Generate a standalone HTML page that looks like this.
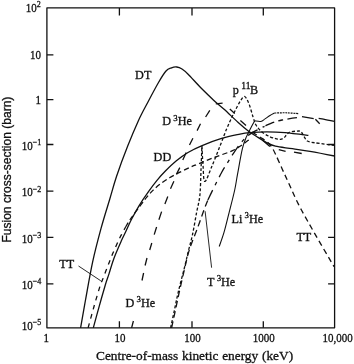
<!DOCTYPE html>
<html><head><meta charset="utf-8"><title>Fusion cross-sections</title>
<style>html,body{margin:0;padding:0;background:#fff}svg{display:block}</style></head>
<body>
<svg width="354" height="364" viewBox="0 0 354 364">
<rect width="354" height="364" fill="#fff"/>
<g fill="none" stroke="#111" stroke-width="1.3" stroke-linecap="butt" stroke-linejoin="round">
<rect x="46.9" y="7.9" width="287.70000000000005" height="319.90000000000003"/>
<path d="M46.9 54.9h6.5M334.6 54.9h-6.5"/>
<path d="M46.9 99.7h6.5M334.6 99.7h-6.5"/>
<path d="M46.9 144.5h6.5M334.6 144.5h-6.5"/>
<path d="M46.9 191.2h6.5M334.6 191.2h-6.5"/>
<path d="M46.9 237.4h6.5M334.6 237.4h-6.5"/>
<path d="M46.9 283.8h6.5M334.6 283.8h-6.5"/>
<path d="M119.4 7.9v7.5M119.4 327.8v-6.5"/>
<path d="M192.0 7.9v7.5M192.0 327.8v-6.5"/>
<path d="M263.3 7.9v7.5M263.3 327.8v-6.5"/>
<path d="M80.6 327.8C81.4 323.2 83.5 310.9 85.5 300.0C87.5 289.1 90.0 274.1 92.6 262.1C95.2 250.1 98.3 238.5 101.1 228.2C103.9 217.8 106.9 208.6 109.5 200.0C112.1 191.4 113.5 185.5 116.5 176.5C119.5 167.5 124.1 155.1 127.8 145.8C131.5 136.5 135.1 128.0 138.5 120.5C141.9 113.0 145.2 107.3 148.5 101.0C151.8 94.7 155.6 87.5 158.5 82.5C161.4 77.5 163.8 73.5 166.0 71.0C168.2 68.5 169.7 68.5 171.5 67.8C173.3 67.1 175.1 66.8 176.8 67.0C178.6 67.2 180.1 67.8 182.0 69.0C183.9 70.2 185.0 71.1 188.1 74.2C191.2 77.3 196.6 83.5 200.8 87.8C205.1 92.1 209.7 96.6 213.6 100.2C217.5 103.8 220.0 105.6 224.1 109.3C228.2 113.0 234.2 118.9 238.2 122.5C242.2 126.1 245.0 128.5 248.3 131.0C251.6 133.5 254.9 135.4 258.0 137.4C261.1 139.4 264.1 141.3 267.0 142.8C269.9 144.3 271.2 145.2 275.4 146.2C279.6 147.2 286.6 147.8 292.4 148.7C298.2 149.6 303.0 150.2 310.0 151.4C317.0 152.6 330.5 155.2 334.6 156.0"/>
<path d="M93.3 327.8C94.3 324.2 97.2 313.4 99.2 306.3C101.2 299.2 103.7 290.4 105.3 285.0C106.9 279.6 107.6 278.3 109.0 273.9C110.4 269.5 111.8 264.0 113.9 258.4C116.0 252.7 119.7 244.5 121.7 240.0C123.7 235.5 124.2 234.9 125.8 231.5C127.4 228.1 129.2 223.8 131.4 219.5C133.6 215.2 136.2 210.5 139.0 205.8C141.8 201.2 145.5 195.8 148.5 191.6C151.5 187.3 154.2 183.7 157.0 180.3C159.8 176.9 162.2 174.2 165.4 171.0C168.6 167.8 172.6 163.9 176.4 160.8C180.2 157.7 183.7 155.0 188.0 152.5C192.3 150.0 196.5 147.9 202.1 145.6C207.7 143.2 215.3 140.3 221.6 138.4C227.9 136.5 235.3 135.1 240.0 134.1C244.7 133.1 245.5 133.0 250.0 132.6C254.5 132.2 261.2 131.8 267.0 131.8C272.8 131.8 278.1 132.0 285.0 132.6C291.9 133.2 304.5 134.9 308.4 135.4"/>
<path d="M88.1 327.8C89.1 324.2 92.0 313.6 94.0 306.5C96.0 299.4 98.8 290.0 100.2 285.5C101.6 281.0 101.4 282.6 102.6 279.5C103.8 276.4 105.8 271.0 107.5 266.8C109.2 262.6 110.7 258.3 112.5 254.1C114.3 249.9 116.6 244.7 118.1 241.4C119.6 238.1 120.3 236.8 121.6 234.4C122.8 232.0 124.9 228.2 125.6 227.0" stroke-dasharray="4.7 4.8"/>
<path d="M125.6 227.0C126.5 225.6 128.4 221.9 130.8 218.5C133.2 215.1 137.1 209.9 139.8 206.3C142.5 202.8 144.6 199.8 146.8 197.2C149.0 194.5 150.7 192.6 152.9 190.4C155.2 188.2 157.5 186.1 160.3 184.0C163.1 181.9 166.4 179.7 169.5 177.8C172.6 175.9 175.6 174.4 179.0 172.7C182.4 170.9 186.8 168.8 190.0 167.3C193.2 165.8 194.6 165.4 198.5 163.8C202.4 162.2 208.0 159.8 213.7 157.6C219.4 155.4 227.8 152.8 232.5 150.7C237.2 148.6 239.2 146.9 242.0 145.0C244.8 143.1 248.1 140.4 249.3 139.5" stroke-dasharray="5.2 3.1"/>
<path d="M252.0 132.0C253.2 132.8 256.7 135.0 259.0 136.5C261.3 138.0 264.0 139.4 266.0 141.0C268.0 142.6 269.4 143.8 271.0 146.0C272.6 148.2 273.6 150.3 275.5 154.2C277.4 158.1 280.3 164.8 282.4 169.4C284.5 174.0 285.4 176.0 288.1 181.8C290.8 187.6 294.5 196.6 298.5 204.4C302.5 212.2 306.1 218.4 312.0 228.8C317.9 239.2 330.3 260.3 334.0 266.6" stroke-dasharray="5.5 3.8"/>
<path d="M131.6 327.8L133.4 321M142 280.5L143.6 273M145.1 265.5L147 258M149.7 250L151.8 243M154.2 234.6L156.6 227M158.9 219.8L161.6 211.6M164.9 204L167.8 196.4M170.5 188.8L173.9 181.2M176.4 174.4L179.8 167.6M182.8 160L186.2 152.6M189.5 145L192.9 138.2M197.1 130.6L200.5 123.8M205.6 117L209.8 110.3M215.8 103.9L222.6 103.2M229.8 109.1L234.7 113.4M240.4 120.4L246 125.4M262.3 139.9L269.9 146.6M278.8 149.6L285.6 151.3M294 152.1L301.7 153.5"/>
<path d="M170.6 327.8C171.2 325.2 172.7 318.0 174.0 312.1C175.3 306.2 176.5 299.4 178.2 292.4C179.8 285.3 182.2 276.5 183.9 269.8C185.6 263.1 186.7 257.9 188.1 252.1C189.5 246.3 191.0 241.8 192.4 235.2C193.8 228.6 195.3 219.3 196.6 212.6C197.8 205.9 199.2 202.1 199.9 195.0C200.6 187.9 200.7 178.2 201.0 170.0C201.3 161.8 201.8 150.0 201.9 146.0" stroke-dasharray="3 2"/>
<path d="M201.9 146.0C202.1 149.2 202.5 159.1 203.0 165.0C203.5 170.9 203.3 181.2 204.8 181.4C206.3 181.7 209.3 172.3 211.8 166.5C214.3 160.7 217.2 153.1 219.7 146.8C222.2 140.6 224.5 134.0 226.6 129.0C228.7 124.0 230.3 120.7 232.0 117.0C233.7 113.3 235.5 109.8 237.0 107.0C238.5 104.2 239.7 101.8 241.0 100.0C242.3 98.2 243.4 95.9 244.7 96.5C246.0 97.1 247.5 100.1 248.9 103.6C250.3 107.0 251.9 113.6 253.1 117.2C254.3 120.8 254.5 122.5 256.0 125.0C257.5 127.5 259.7 130.0 262.0 132.0C264.3 134.0 267.7 135.7 270.0 136.8C272.3 137.9 273.9 138.2 275.6 138.6C277.4 139.0 279.1 139.5 280.5 139.4C281.9 139.3 283.0 138.5 284.0 137.8C285.0 137.1 285.4 136.0 286.4 135.0C287.4 134.0 288.4 132.6 290.0 132.0C291.6 131.4 294.2 131.3 296.0 131.2C297.8 131.1 299.4 130.6 300.8 131.6C302.2 132.6 303.1 135.3 304.2 136.9C305.3 138.5 305.6 140.0 307.4 141.0C309.2 142.0 310.5 142.1 315.0 142.8C319.5 143.5 331.3 145.0 334.6 145.4" stroke-dasharray="3 2"/>
<path d="M171.6 327.8C172.2 325.2 173.7 318.0 175.0 312.1C176.3 306.2 177.6 299.6 179.2 292.4C180.8 285.2 182.8 276.3 184.5 269.1C186.2 261.9 187.2 256.4 189.5 249.3C191.8 242.2 195.4 233.8 198.0 226.7C200.6 219.6 203.4 211.4 205.1 207.0C206.8 202.6 207.4 201.2 207.9 200.0" stroke-dasharray="6.5 4"/>
<path d="M207.9 200.0C208.7 198.3 210.4 194.6 212.7 190.0C215.0 185.4 219.1 177.1 221.6 172.5C224.1 167.9 225.8 165.6 227.6 162.6C229.4 159.6 230.4 157.8 232.5 154.7C234.6 151.6 237.4 147.2 240.0 144.0C242.6 140.8 245.0 137.9 248.0 135.5C251.0 133.1 255.2 131.0 258.0 129.5C260.8 128.0 263.4 126.8 264.5 126.3" stroke-dasharray="11 5.5 3.5 5.5"/>
<path d="M265.5 125.8C266.7 125.3 269.9 123.6 272.6 122.6C275.4 121.6 277.4 120.9 282.0 120.0C286.6 119.1 295.0 117.8 300.0 117.4C305.0 117.0 308.3 117.2 312.0 117.5C315.7 117.8 318.2 118.2 322.0 118.9C325.8 119.6 332.5 121.0 334.6 121.4" stroke-dasharray="9.5 4.3 5 4.3 9.5 22 40"/>
<path d="M219.2 246.5C220.0 244.2 222.3 238.1 224.0 232.4C225.7 226.8 227.3 219.7 229.1 212.6C230.9 205.5 233.3 196.4 234.7 190.0C236.1 183.6 236.2 181.3 237.5 174.4C238.8 167.5 240.9 154.9 242.4 148.7C243.9 142.4 244.9 140.5 246.4 136.9C247.9 133.3 249.9 129.7 251.3 127.0C252.7 124.3 254.2 121.8 254.8 120.8" stroke-width="1.1"/>
<path d="M254.8 120.8C255.8 120.9 259.1 121.7 260.8 121.4C262.5 121.1 263.5 119.9 265.0 118.9C266.5 117.9 268.4 116.5 270.0 115.5C271.6 114.5 273.8 113.4 274.5 113.0" stroke-width="1.05"/>
<path d="M274.5 113.0C276.4 113.0 281.9 112.7 286.0 112.8C290.1 112.9 296.8 113.5 298.9 113.6" stroke-dasharray="1.9 0.8" stroke-width="1.15"/>
<path d="M302 116.6L313.7 118.7M315.4 119.3L319.7 123.8"/>
<path d="M78.5 266L100.8 280.8" stroke-width="0.9"/>
<path d="M205.1 211.2L211.6 267.7" stroke-width="0.9"/>
</g>
<g font-family="'Liberation Serif',serif" fill="#111" stroke="#111" stroke-width="0.3">
<text transform="translate(25.8 11.7) scale(0.915 1)" font-size="12" text-anchor="start" >10<tspan font-size="8.8" dy="-4.6">2</tspan></text>
<text transform="translate(41 59.4) scale(0.915 1)" font-size="12" text-anchor="end" >10</text>
<text transform="translate(41 104.2) scale(0.915 1)" font-size="12" text-anchor="end" >1</text>
<text transform="translate(21.8 149.6) scale(0.915 1)" font-size="12" text-anchor="start" >10<tspan font-size="8.8" dy="-4.6">−1</tspan></text>
<text transform="translate(21.8 196.29999999999998) scale(0.915 1)" font-size="12" text-anchor="start" >10<tspan font-size="8.8" dy="-4.6">−2</tspan></text>
<text transform="translate(21.8 242.5) scale(0.915 1)" font-size="12" text-anchor="start" >10<tspan font-size="8.8" dy="-4.6">−3</tspan></text>
<text transform="translate(21.8 288.90000000000003) scale(0.915 1)" font-size="12" text-anchor="start" >10<tspan font-size="8.8" dy="-4.6">−4</tspan></text>
<text transform="translate(21.8 329.6) scale(0.915 1)" font-size="12" text-anchor="start" >10<tspan font-size="8.8" dy="-4.6">−5</tspan></text>
<text transform="translate(46.3 342) scale(0.915 1)" font-size="12" text-anchor="middle" >1</text>
<text transform="translate(119.9 342) scale(0.915 1)" font-size="12" text-anchor="middle" >10</text>
<text transform="translate(192.5 342) scale(0.915 1)" font-size="12" text-anchor="middle" >100</text>
<text transform="translate(263.8 342) scale(0.915 1)" font-size="12" text-anchor="middle" >1000</text>
<text transform="translate(322.6 342) scale(0.915 1)" font-size="12" text-anchor="start" >10,000</text>
<text transform="translate(96.0 359.7) scale(1.0 1)" font-size="13.35" text-anchor="start" word-spacing="0.45">Centre-of-mass kinetic energy (keV)</text>
<text transform="translate(135.1 78.8) scale(1.0 1)" font-size="12.2" text-anchor="start" >DT</text>
<text transform="translate(153.6 161.2) scale(1.0 1)" font-size="12.2" text-anchor="start" >DD</text>
<text transform="translate(59.2 267.5) scale(1.0 1)" font-size="12.2" text-anchor="start" >TT</text>
<text transform="translate(296.4 241.3) scale(1.0 1)" font-size="12.2" text-anchor="start" >TT</text>
<text transform="translate(162.3 125.3) scale(1.0 1)" font-size="12.2" text-anchor="start" >D<tspan font-size="8.8" dy="-4.6"> 3</tspan><tspan dy="4.6">He</tspan></text>
<text transform="translate(125.6 306.9) scale(1.0 1)" font-size="12.2" text-anchor="start" >D<tspan font-size="8.8" dy="-4.6"> 3</tspan><tspan dy="4.6">He</tspan></text>
<text transform="translate(207.0 285.6) scale(1.0 1)" font-size="12.2" text-anchor="start" >T<tspan font-size="8.8" dy="-4.6"> 3</tspan><tspan dy="4.6">He</tspan></text>
<text transform="translate(231.5 222.9) scale(1.0 1)" font-size="12.2" text-anchor="start" >Li<tspan font-size="8.8" dy="-4.6"> 3</tspan><tspan dy="4.6">He</tspan></text>
<text transform="translate(232.8 93.9) scale(1.0 1)" font-size="12.2" text-anchor="start" >p<tspan font-size="9.6" dy="-5.1"> 11</tspan><tspan dy="5.1" dx="-0.5">B</tspan></text>
</g>
<text transform="translate(10.6 242.6) rotate(-90)" font-family="'Liberation Sans',sans-serif" font-size="12.05" fill="#111" stroke="#111" stroke-width="0.3">Fusion cross-section (barn)</text>
</svg>
</body></html>
